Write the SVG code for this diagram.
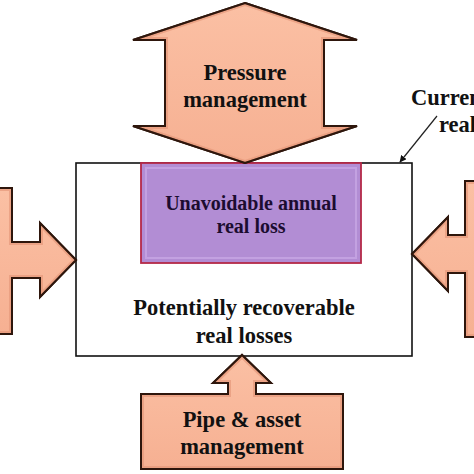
<svg xmlns="http://www.w3.org/2000/svg" width="474" height="474" viewBox="0 0 474 474">
<style>
.arrow{fill:url(#peach);stroke:#2e160c;stroke-width:2;stroke-linejoin:miter}
.band{fill:none;stroke:#e6987a;stroke-width:6;stroke-opacity:0.7}
.t{font-family:"Liberation Serif","Times New Roman",serif;font-weight:bold;font-size:22.5px;fill:#111;text-anchor:middle}
.tp{font-family:"Liberation Serif","Times New Roman",serif;font-weight:bold;font-size:20px;fill:#1c0c30;text-anchor:middle}
</style>
<defs>
<linearGradient id="peach" x1="0" y1="0" x2="0" y2="1">
<stop offset="0" stop-color="#fbc0a4"/>
<stop offset="1" stop-color="#f6b092"/>
</linearGradient>
<path id="pTop" d="M245,3 L357,40 L324,40 L324,126 L357,126 L245,163 L133,126 L165,126 L165,40 L133,40 Z"/>
<path id="pLeft" d="M-5,188 L12,188 L12,242 L40,242 L40,223 L76,260 L40,297 L40,278 L12,278 L12,334 L-5,334 Z"/>
<path id="pRight" d="M480,181 L465,181 L465,235 L448,235 L448,217 L412,254 L448,291 L448,273 L465,273 L465,337 L480,337 Z"/>
<path id="pBot" d="M141,394 L228,394 L228,383 L213,383 L242,355 L271,383 L256,383 L256,394 L343,394 L343,469 L141,469 Z"/>
<clipPath id="cTop"><use href="#pTop"/></clipPath>
<clipPath id="cLeft"><use href="#pLeft"/></clipPath>
<clipPath id="cRight"><use href="#pRight"/></clipPath>
<clipPath id="cBot"><use href="#pBot"/></clipPath>
<marker id="ah" viewBox="0 0 10 10" refX="9" refY="5" markerWidth="7" markerHeight="7" orient="auto" markerUnits="userSpaceOnUse">
<path d="M0,0 L10,5 L0,10 Z" fill="#111"/>
</marker>
</defs>
<rect width="474" height="474" fill="#fff"/>

<g id="main-box">
<rect x="76" y="163" width="336" height="193" fill="#fff" stroke="#111" stroke-width="1.6"/>
<text class="t" x="244" y="315">Potentially recoverable</text>
<text class="t" x="244" y="343">real losses</text>
</g>

<g id="unavoidable">
<rect x="141" y="163" width="220" height="100" fill="#b28dd4" stroke="#b42848" stroke-width="1.8"/>
<rect x="146" y="168" width="210" height="90" fill="none" stroke="#c7a6e4" stroke-width="2" opacity="0.8"/>
<text class="tp" x="251" y="210">Unavoidable annual</text>
<text class="tp" x="251" y="233">real loss</text>
</g>

<g id="pressure">
<use href="#pTop" class="arrow"/>
<use href="#pTop" class="band" clip-path="url(#cTop)"/>
<use href="#pTop" fill="none" stroke="#2e160c" stroke-width="2"/>
<text class="t" x="245" y="80">Pressure</text>
<text class="t" x="245" y="107">management</text>
</g>

<g id="left-arrow">
<use href="#pLeft" class="arrow"/>
<use href="#pLeft" class="band" clip-path="url(#cLeft)"/>
<use href="#pLeft" fill="none" stroke="#2e160c" stroke-width="2"/>
</g>

<g id="right-arrow">
<use href="#pRight" class="arrow"/>
<use href="#pRight" class="band" clip-path="url(#cRight)"/>
<use href="#pRight" fill="none" stroke="#2e160c" stroke-width="2"/>
</g>

<g id="pipe">
<use href="#pBot" class="arrow"/>
<use href="#pBot" class="band" clip-path="url(#cBot)"/>
<use href="#pBot" fill="none" stroke="#2e160c" stroke-width="2"/>
<text class="t" x="242" y="427">Pipe &amp; asset</text>
<text class="t" x="242" y="454">management</text>
</g>

<g id="current-label">
<text class="t" x="411" y="105" style="text-anchor:start">Current</text>
<text class="t" x="439" y="132" style="text-anchor:start">real</text>
</g>

<g id="connectors">
<line x1="437" y1="116" x2="400" y2="162" stroke="#222" stroke-width="1.2" marker-end="url(#ah)"/>
</g>
</svg>
